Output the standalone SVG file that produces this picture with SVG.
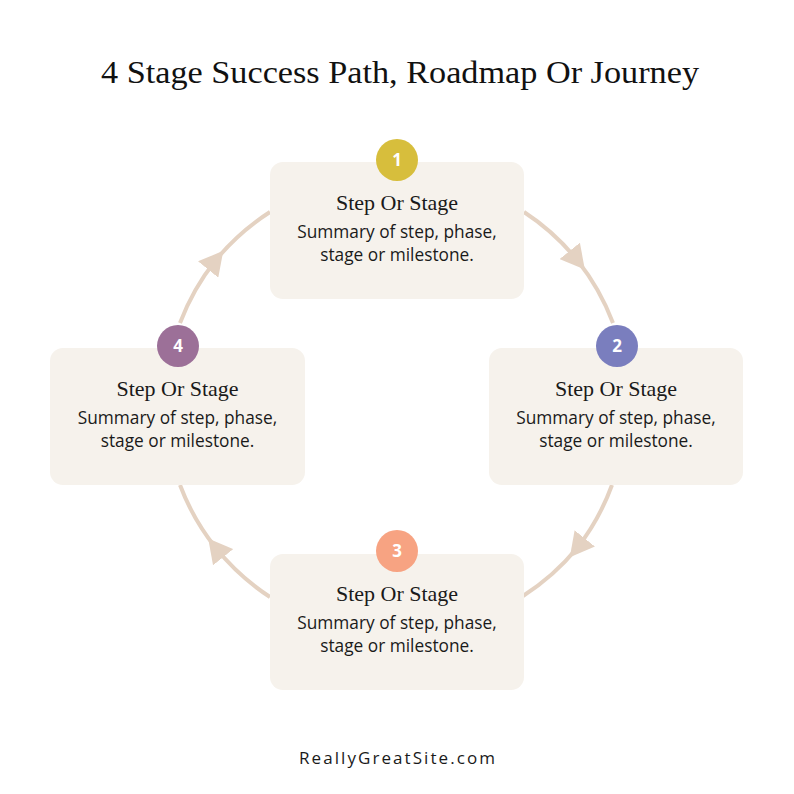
<svg xmlns="http://www.w3.org/2000/svg" width="794" height="794" viewBox="0 0 794 794">
<style>
.box{fill:#F6F2EC}
.arc{fill:none;stroke:#E4D2C2;stroke-width:4;marker-mid:url(#ah)}
.title{font-family:"Liberation Serif",serif;font-size:31px;fill:#111}
.head{font-family:"Liberation Serif",serif;font-size:22px;fill:#1a1a1a;text-anchor:middle}
.body{font-family:"Open Sans","Liberation Sans",sans-serif;font-size:17.3px;fill:#1a1a1a;text-anchor:middle}
.num{font-family:"Open Sans","Liberation Sans",sans-serif;font-size:17px;font-weight:bold;fill:#fff;text-anchor:middle}
.foot{font-family:"Open Sans","Liberation Sans",sans-serif;font-size:17px;fill:#1a1a1a}
</style>
<defs>
<marker id="ah" markerUnits="userSpaceOnUse" viewBox="0 0 24 26" refX="12" refY="13" markerWidth="24" markerHeight="26" orient="auto">
<path d="M0,0 L24,13 L0,26 z" fill="#E4D2C2"/>
</marker>
</defs>
<rect width="794" height="794" fill="#fff"/>
<text class="title" x="101" y="83" textLength="598" lengthAdjust="spacingAndGlyphs">4 Stage Success Path, Roadmap Or Journey</text>
<g id="connectors">
<path class="arc" d="M524,212 A231,231 0 0 1 577.3,260.2 A231,231 0 0 1 613,323"/>
<path class="arc" d="M612,485 A231,231 0 0 1 577.3,547.8 A231,231 0 0 1 523,596"/>
<path class="arc" d="M270,597 A231,231 0 0 1 215.7,547.8 A231,231 0 0 1 180,485"/>
<path class="arc" d="M180,323 A231,231 0 0 1 215.7,260.2 A231,231 0 0 1 270,212"/>
</g>
<g id="node1">
<rect class="box" x="270" y="162" width="254" height="137" rx="13"/>
<circle cx="397" cy="160" r="21" fill="#D7BE3C"/>
<text class="num" x="397" y="166">1</text>
<text class="head" x="397" y="210">Step Or Stage</text>
<text class="body" x="397" y="238">Summary of step, phase,</text>
<text class="body" x="397" y="261">stage or milestone.</text>
</g>
<g id="node2">
<rect class="box" x="489" y="348" width="254" height="137" rx="13"/>
<circle cx="617" cy="346" r="21" fill="#7A7EBE"/>
<text class="num" x="617" y="352">2</text>
<text class="head" x="616" y="396">Step Or Stage</text>
<text class="body" x="616" y="424">Summary of step, phase,</text>
<text class="body" x="616" y="447">stage or milestone.</text>
</g>
<g id="node3">
<rect class="box" x="270" y="554" width="254" height="136" rx="13"/>
<circle cx="397" cy="551" r="21" fill="#F7A382"/>
<text class="num" x="397" y="557">3</text>
<text class="head" x="397" y="601">Step Or Stage</text>
<text class="body" x="397" y="629">Summary of step, phase,</text>
<text class="body" x="397" y="652">stage or milestone.</text>
</g>
<g id="node4">
<rect class="box" x="50" y="348" width="255" height="137" rx="13"/>
<circle cx="178" cy="346" r="21" fill="#9C7098"/>
<text class="num" x="178" y="352">4</text>
<text class="head" x="177.5" y="396">Step Or Stage</text>
<text class="body" x="177.5" y="424">Summary of step, phase,</text>
<text class="body" x="177.5" y="447">stage or milestone.</text>
</g>
<text class="foot" x="299" y="764" textLength="196" lengthAdjust="spacing">ReallyGreatSite.com</text>
</svg>
